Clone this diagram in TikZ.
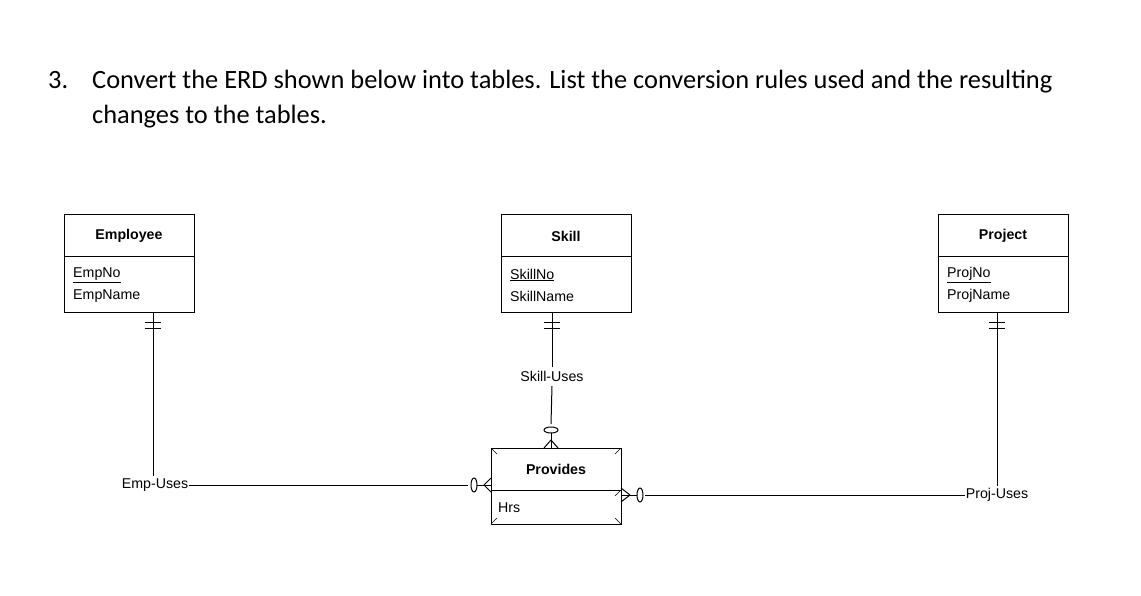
\documentclass[tikz,border=0pt]{standalone}
\usepackage{fontspec}
\setmainfont{Carlito}
\newfontfamily\erdfont{Liberation Sans}
\begin{document}
\begin{tikzpicture}[x=1pt,y=-1pt,
  ent/.style={draw,line width=1pt},
  lbl/.style={font=\erdfont\fontsize{14.2}{16}\selectfont,inner sep=1pt},
  ttl/.style={font=\erdfont\bfseries\fontsize{14.2}{16}\selectfont},
  ln/.style={line width=1pt}]
\useasboundingbox (0,0) rectangle (1141,595);
\node[anchor=base west,inner sep=0,font=\fontsize{26.4}{30}\selectfont] (n3) at (48,88) {3.};
\node[anchor=base west,inner sep=0,font=\fontsize{26.4}{30}\selectfont] (q) at (92,88) {Convert the ERD shown below into tables. List the conversion rules used and the resulting};
\node[anchor=base west,inner sep=0,font=\fontsize{26.4}{30}\selectfont] (q2) at (92,123) {changes to the tables.};
% entities
\foreach \n/\x/\t/\a/\b in {emp/64/Employee/EmpNo/EmpName, sk/501/Skill/SkillNo/SkillName, pr/938/Project/ProjNo/ProjName}{
  \draw[ent] (\x,214) rectangle (\x+130,312);
  \draw[ent] (\x,256) -- (\x+130,256);
  \node[ttl] (\n t) at (\x+65,236) {\t};
  \node[lbl,anchor=west] (\n a) at (\x+8,275) {\underline{\a}};
  \node[lbl,anchor=west] (\n b) at (\x+8,296) {\b};
}
% Provides
\draw[ent] (491,448) rectangle (621,524);
\draw[ent] (491,490) -- (621,490);
\foreach \cx/\cy/\dx/\dy in {491/448/1/1, 621/448/-1/1, 491/524/1/-1, 621/524/-1/-1, 621/490/-1/1}
  \draw[line width=0.6pt] (\cx,\cy) -- ++(6*\dx,6*\dy);
\node[ttl] (pv) at (556,469) {Provides};
\node[lbl,anchor=west] (hrs) at (497,508) {Hrs};
% labels
\node[lbl] (eu) at (155,485) {Emp-Uses};
\node[lbl] (su) at (552,376) {Skill-Uses};
\node[lbl] (pu) at (997,495) {Proj-Uses};
% Employee relationship
\draw[ln] (153,312) -- (153,476);
\draw[ln] (145,322)--(161,322) (145,328)--(161,328);
\draw[ln] (eu.east) -- (468,485);
\draw[ln] (474,485) ellipse (3 and 7);
\draw[ln] (477,485) -- (491,485);
\draw[ln] (484,485) -- (491,478) (484,485) -- (491,492);
% Skill relationship
\draw[ln] (552,312) -- (552,367);
\draw[ln] (544,322)--(560,322) (544,328)--(560,328);
\draw[ln] (552,386) -- (551,424);
\draw[ln] (551,430) ellipse (7 and 3);
\draw[ln] (551,433) -- (551,448);
\draw[ln] (551,440) -- (544,448) (551,440) -- (558,448);
% Project relationship
\draw[ln] (997,312) -- (997,486);
\draw[ln] (989,322)--(1005,322) (989,328)--(1005,328);
\draw[ln] (pu.west) -- (645,495);
\draw[ln] (640,495) ellipse (3 and 7);
\draw[ln] (621,495) -- (637,495);
\draw[ln] (630,495) -- (621,488) (630,495) -- (621,502);
\end{tikzpicture}
\end{document}
